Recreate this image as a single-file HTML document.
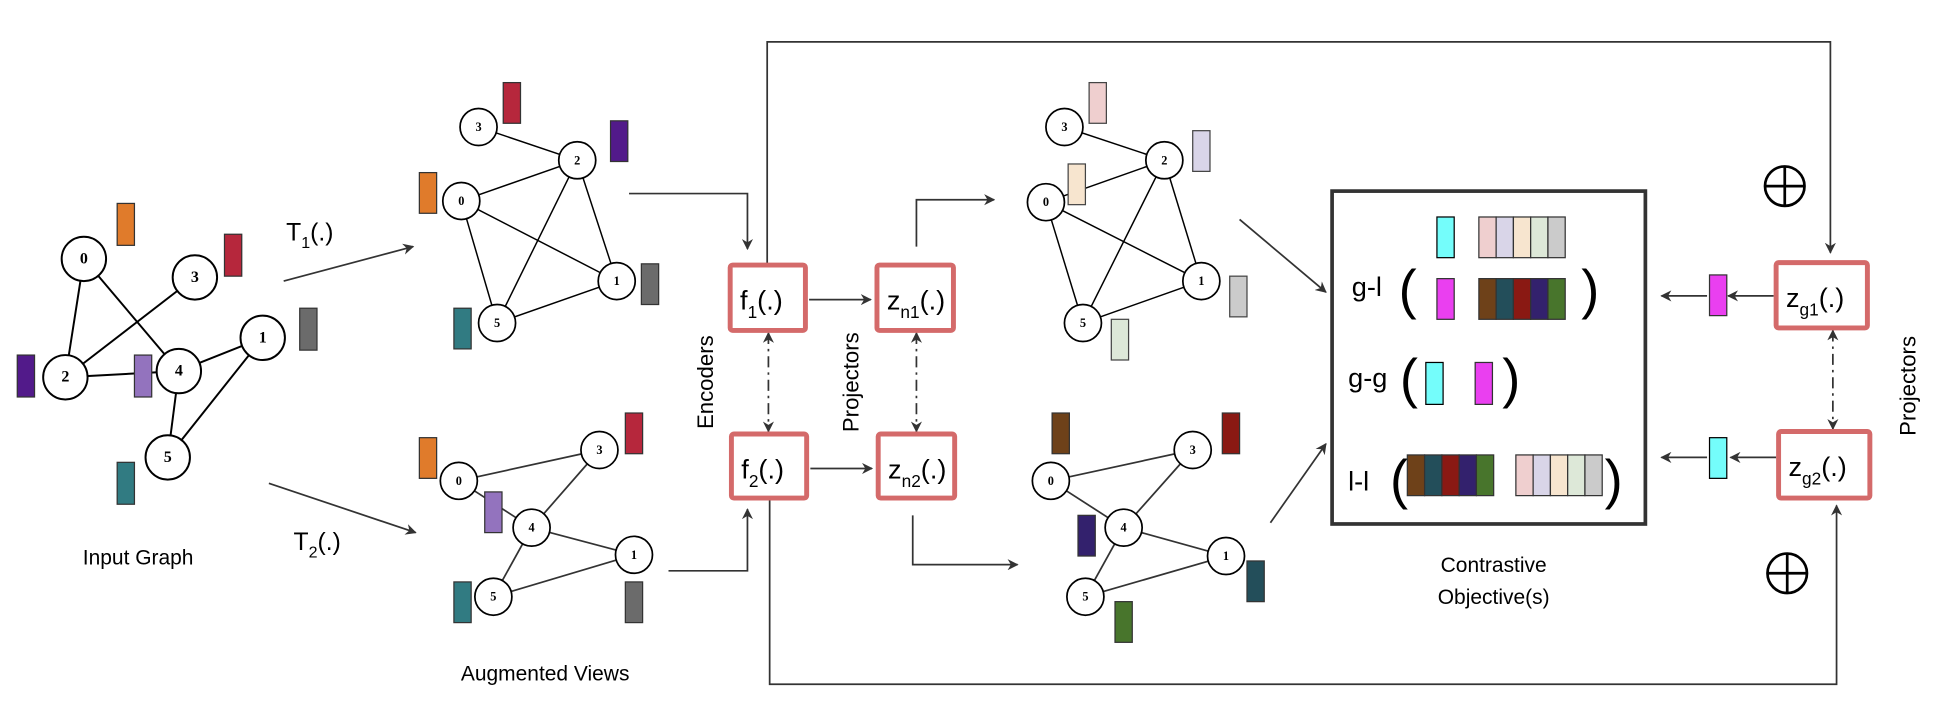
<!DOCTYPE html>
<html><head><meta charset="utf-8"><style>
html,body{margin:0;padding:0;background:#fff;}
svg{display:block;}
text{font-family:"Liberation Sans",sans-serif;fill:#000;}
.n{font-family:"Liberation Serif",serif;font-weight:bold;font-size:10px;text-anchor:middle;dominant-baseline:central;}
</style></head><body>
<svg width="1934" height="720" viewBox="0 0 1568 584" preserveAspectRatio="none" xmlns="http://www.w3.org/2000/svg">
<defs>
<marker id="a" viewBox="0 0 10 10" refX="9" refY="5" markerWidth="9" markerHeight="9" orient="auto-start-reverse" markerUnits="userSpaceOnUse"><path d="M0,0 L10,5 L0,10 L3,5 z" fill="#333"/></marker>
</defs>
<g stroke="#000" stroke-width="1.6" fill="none">
<!-- input graph edges -->
<line x1="68" y1="210" x2="53" y2="306"/><line x1="68" y1="210" x2="145" y2="301"/>
<line x1="158" y1="225" x2="53" y2="306"/><line x1="53" y1="306" x2="145" y2="301"/>
<line x1="145" y1="301" x2="213" y2="274"/><line x1="145" y1="301" x2="136" y2="371"/>
<line x1="136" y1="371" x2="213" y2="274"/>
</g>
<g stroke="#000" stroke-width="1.6" fill="#fff">
<circle cx="68" cy="210" r="18"/><circle cx="158" cy="225" r="18"/><circle cx="213" cy="274" r="18"/>
<circle cx="53" cy="306" r="18"/><circle cx="145" cy="301" r="18"/><circle cx="136" cy="371" r="18"/>
</g>
<g class="n" style="font-size:13px">
<text x="68" y="210" class="n" style="font-size:13px">0</text><text x="158" y="225" class="n" style="font-size:13px">3</text><text x="213" y="274" class="n" style="font-size:13px">1</text>
<text x="53" y="306" class="n" style="font-size:13px">2</text><text x="145" y="301" class="n" style="font-size:13px">4</text><text x="136" y="371" class="n" style="font-size:13px">5</text>
</g>
<g stroke="#333" stroke-width="1">
<rect x="95" y="165" width="14" height="34" fill="#e07b2b"/><rect x="182" y="190" width="14" height="34" fill="#b6273c"/>
<rect x="243" y="250" width="14" height="34" fill="#6b6b6b"/><rect x="14" y="288" width="14" height="34" fill="#521a8a"/>
<rect x="109" y="288" width="14" height="34" fill="#9373be"/><rect x="95" y="375" width="14" height="34" fill="#317b82"/>
</g>
<text x="112" y="458" font-size="17" text-anchor="middle">Input Graph</text>
<text x="232" y="195" font-size="20">T<tspan font-size="13" dy="6">1</tspan><tspan dy="-6">(.)</tspan></text>
<text x="238" y="446" font-size="20">T<tspan font-size="13" dy="6">2</tspan><tspan dy="-6">(.)</tspan></text>
<g stroke="#333" stroke-width="1.4" fill="none" marker-end="url(#a)">
<line x1="230" y1="228" x2="335" y2="200"/><line x1="218" y1="392" x2="337" y2="432"/>
</g>

<!-- top augmented -->
<g stroke="#000" stroke-width="1.2">
<line x1="388" y1="103" x2="468" y2="130"/><line x1="468" y1="130" x2="374" y2="163"/>
<line x1="374" y1="163" x2="500" y2="228"/><line x1="374" y1="163" x2="403" y2="262"/>
<line x1="468" y1="130" x2="403" y2="262"/><line x1="468" y1="130" x2="500" y2="228"/>
<line x1="403" y1="262" x2="500" y2="228"/>
</g>
<g stroke="#000" stroke-width="1.4" fill="#fff">
<circle cx="388" cy="103" r="15"/><circle cx="468" cy="130" r="15"/><circle cx="374" cy="163" r="15"/><circle cx="500" cy="228" r="15"/><circle cx="403" cy="262" r="15"/>
</g>
<text x="388" y="103" class="n">3</text><text x="468" y="130" class="n">2</text><text x="374" y="163" class="n">0</text><text x="500" y="228" class="n">1</text><text x="403" y="262" class="n">5</text>
<g stroke="#333" stroke-width="1">
<rect x="408" y="67" width="14" height="33" fill="#b6273c"/><rect x="495" y="98" width="14" height="33" fill="#521a8a"/>
<rect x="340" y="140" width="14" height="33" fill="#e07b2b"/><rect x="520" y="214" width="14" height="33" fill="#6b6b6b"/>
<rect x="368" y="250" width="14" height="33" fill="#317b82"/>
</g>
<!-- bottom augmented -->
<g stroke="#333" stroke-width="1.4">
<line x1="372" y1="390" x2="486" y2="365"/><line x1="372" y1="390" x2="431" y2="428"/>
<line x1="431" y1="428" x2="486" y2="365"/><line x1="431" y1="428" x2="514" y2="450"/>
<line x1="431" y1="428" x2="400" y2="484"/><line x1="400" y1="484" x2="514" y2="450"/>
</g>
<g stroke="#000" stroke-width="1.4" fill="#fff">
<circle cx="372" cy="390" r="15"/><circle cx="486" cy="365" r="15"/><circle cx="431" cy="428" r="15"/><circle cx="514" cy="450" r="15"/><circle cx="400" cy="484" r="15"/>
</g>
<text x="372" y="390" class="n">0</text><text x="486" y="365" class="n">3</text><text x="431" y="428" class="n">4</text><text x="514" y="450" class="n">1</text><text x="400" y="484" class="n">5</text>
<g stroke="#333" stroke-width="1">
<rect x="340" y="355" width="14" height="33" fill="#e07b2b"/><rect x="507" y="335" width="14" height="33" fill="#b6273c"/>
<rect x="393" y="399" width="14" height="33" fill="#9373be"/><rect x="368" y="472" width="14" height="33" fill="#317b82"/>
<rect x="507" y="472" width="14" height="33" fill="#6b6b6b"/>
</g>
<text x="442" y="552" font-size="17" text-anchor="middle">Augmented Views</text>

<!-- connectors -->
<g stroke="#333" stroke-width="1.4" fill="none">
<polyline points="510,157 606,157 606,202" marker-end="url(#a)"/>
<polyline points="542,463 606,463 606,413" marker-end="url(#a)"/>
<polyline points="622,214 622,34 1484,34 1484,205" marker-end="url(#a)"/>
<polyline points="624,404 624,555 1489,555 1489,410" marker-end="url(#a)"/>
<line x1="656" y1="243" x2="706" y2="243" marker-end="url(#a)"/>
<line x1="657" y1="380" x2="707" y2="380" marker-end="url(#a)"/>
<polyline points="743,200 743,162 806,162" marker-end="url(#a)"/>
<polyline points="740,418 740,458 825,458" marker-end="url(#a)"/>
<line x1="623" y1="270" x2="623" y2="350" stroke-dasharray="9,4,2,4" marker-start="url(#a)" marker-end="url(#a)"/>
<line x1="743" y1="270" x2="743" y2="350" stroke-dasharray="9,4,2,4" marker-start="url(#a)" marker-end="url(#a)"/>
<line x1="1486" y1="268" x2="1486" y2="348" stroke-dasharray="9,4,2,4" marker-start="url(#a)" marker-end="url(#a)"/>
<line x1="1005" y1="178" x2="1075" y2="237" marker-end="url(#a)"/>
<line x1="1030" y1="424" x2="1075" y2="360" marker-end="url(#a)"/>
<line x1="1438" y1="240" x2="1401" y2="240" marker-end="url(#a)"/>
<line x1="1384" y1="240" x2="1347" y2="240" marker-end="url(#a)"/>
<line x1="1440" y1="371" x2="1403" y2="371" marker-end="url(#a)"/>
<line x1="1384" y1="371" x2="1347" y2="371" marker-end="url(#a)"/>
</g>

<!-- boxes -->
<g stroke="#d46a6a" stroke-width="4" fill="#fff">
<rect x="592" y="215" width="61" height="53" rx="2"/><rect x="593" y="352" width="61" height="52" rx="2"/>
<rect x="711" y="215" width="62" height="53" rx="2"/><rect x="712" y="352" width="62" height="52" rx="2"/>
<rect x="1440" y="213" width="74" height="53" rx="2"/><rect x="1442" y="350" width="74" height="54" rx="2"/>
</g>
<text x="600" y="251" font-size="22">f<tspan font-size="14" dy="7">1</tspan><tspan dy="-7">(.)</tspan></text>
<text x="601" y="388" font-size="22">f<tspan font-size="14" dy="7">2</tspan><tspan dy="-7">(.)</tspan></text>
<text x="719" y="251" font-size="22">z<tspan font-size="14" dy="7">n1</tspan><tspan dy="-7">(.)</tspan></text>
<text x="720" y="388" font-size="22">z<tspan font-size="14" dy="7">n2</tspan><tspan dy="-7">(.)</tspan></text>
<text x="1448" y="249" font-size="22">z<tspan font-size="14" dy="7">g1</tspan><tspan dy="-7">(.)</tspan></text>
<text x="1450" y="386" font-size="22">z<tspan font-size="14" dy="7">g2</tspan><tspan dy="-7">(.)</tspan></text>
<text transform="translate(578,310) rotate(-90)" font-size="18" text-anchor="middle">Encoders</text>
<text transform="translate(696,310) rotate(-90)" font-size="18" text-anchor="middle">Projectors</text>
<text transform="translate(1553,313) rotate(-90)" font-size="18" text-anchor="middle">Projectors</text>

<!-- right top graph -->
<g stroke="#000" stroke-width="1.2">
<line x1="863" y1="103" x2="944" y2="130"/><line x1="944" y1="130" x2="848" y2="164"/>
<line x1="848" y1="164" x2="974" y2="228"/><line x1="848" y1="164" x2="878" y2="262"/>
<line x1="944" y1="130" x2="878" y2="262"/><line x1="944" y1="130" x2="974" y2="228"/>
<line x1="878" y1="262" x2="974" y2="228"/>
</g>
<g stroke="#000" stroke-width="1.4" fill="#fff">
<circle cx="863" cy="103" r="15"/><circle cx="944" cy="130" r="15"/><circle cx="848" cy="164" r="15"/><circle cx="974" cy="228" r="15"/><circle cx="878" cy="262" r="15"/>
</g>
<text x="863" y="103" class="n">3</text><text x="944" y="130" class="n">2</text><text x="848" y="164" class="n">0</text><text x="974" y="228" class="n">1</text><text x="878" y="262" class="n">5</text>
<g stroke="#444" stroke-width="1">
<rect x="883" y="67" width="14" height="33" fill="#efcfcf"/><rect x="967" y="106" width="14" height="33" fill="#d9d5e8"/>
<rect x="866" y="133" width="14" height="33" fill="#f7e5cf"/><rect x="997" y="224" width="14" height="33" fill="#cbcbcb"/>
<rect x="901" y="259" width="14" height="33" fill="#dde8d8"/>
</g>
<!-- right bottom graph -->
<g stroke="#333" stroke-width="1.4">
<line x1="852" y1="390" x2="967" y2="365"/><line x1="852" y1="390" x2="911" y2="428"/>
<line x1="911" y1="428" x2="967" y2="365"/><line x1="911" y1="428" x2="994" y2="451"/>
<line x1="911" y1="428" x2="880" y2="484"/><line x1="880" y1="484" x2="994" y2="451"/>
</g>
<g stroke="#000" stroke-width="1.4" fill="#fff">
<circle cx="852" cy="390" r="15"/><circle cx="967" cy="365" r="15"/><circle cx="911" cy="428" r="15"/><circle cx="994" cy="451" r="15"/><circle cx="880" cy="484" r="15"/>
</g>
<text x="852" y="390" class="n">0</text><text x="967" y="365" class="n">3</text><text x="911" y="428" class="n">4</text><text x="994" y="451" class="n">1</text><text x="880" y="484" class="n">5</text>
<g stroke="#333" stroke-width="1">
<rect x="853" y="335" width="14" height="33" fill="#6e4119"/><rect x="991" y="335" width="14" height="33" fill="#8a1913"/>
<rect x="874" y="418" width="14" height="33" fill="#33216d"/><rect x="1011" y="455" width="14" height="33" fill="#234e5a"/>
<rect x="904" y="488" width="14" height="33" fill="#48752c"/>
</g>

<!-- contrastive box -->
<rect x="1080" y="155" width="254" height="270" fill="#fff" stroke="#333" stroke-width="3"/>
<text x="1096" y="240" font-size="22">g-l</text>
<text x="1134" y="250" font-size="44">(</text>
<text x="1282" y="250" font-size="44">)</text>
<text x="1093" y="314" font-size="22">g-g</text>
<text x="1135" y="322" font-size="44">(</text>
<text x="1218" y="322" font-size="44">)</text>
<text x="1093" y="398" font-size="22">l-l</text>
<text x="1127" y="404" font-size="44">(</text>
<text x="1301" y="404" font-size="44">)</text>
<g stroke="#333" stroke-width="1">
<rect x="1165" y="176" width="14" height="33" fill="#74fdfb" stroke="#000"/>
<rect x="1165" y="226" width="14" height="33" fill="#ea3ff0"/>
<rect x="1199" y="176" width="14" height="33" fill="#efcfcf"/><rect x="1213" y="176" width="14" height="33" fill="#d9d5e8"/><rect x="1227" y="176" width="14" height="33" fill="#f7e5cf"/><rect x="1241" y="176" width="14" height="33" fill="#dde8d8"/><rect x="1255" y="176" width="14" height="33" fill="#cbcbcb"/>
<rect x="1199" y="226" width="14" height="33" fill="#6e4119"/><rect x="1213" y="226" width="14" height="33" fill="#234e5a"/><rect x="1227" y="226" width="14" height="33" fill="#8a1913"/><rect x="1241" y="226" width="14" height="33" fill="#33216d"/><rect x="1255" y="226" width="14" height="33" fill="#48752c"/>
<rect x="1156" y="294" width="14" height="34" fill="#74fdfb" stroke="#000"/>
<rect x="1196" y="294" width="14" height="34" fill="#ea3ff0"/>
<rect x="1141" y="369" width="14" height="33" fill="#6e4119"/><rect x="1155" y="369" width="14" height="33" fill="#234e5a"/><rect x="1169" y="369" width="14" height="33" fill="#8a1913"/><rect x="1183" y="369" width="14" height="33" fill="#33216d"/><rect x="1197" y="369" width="14" height="33" fill="#48752c"/>
<rect x="1229" y="369" width="14" height="33" fill="#efcfcf"/><rect x="1243" y="369" width="14" height="33" fill="#d9d5e8"/><rect x="1257" y="369" width="14" height="33" fill="#f7e5cf"/><rect x="1271" y="369" width="14" height="33" fill="#dde8d8"/><rect x="1285" y="369" width="14" height="33" fill="#cbcbcb"/>
<rect x="1386" y="223" width="14" height="33" fill="#ea3ff0"/>
<rect x="1386" y="355" width="14" height="33" fill="#74fdfb" stroke="#000"/>
</g>
<text x="1211" y="464" font-size="17" text-anchor="middle">Contrastive</text>
<text x="1211" y="490" font-size="17" text-anchor="middle">Objective(s)</text>
<!-- oplus -->
<g stroke="#000" stroke-width="2.2" fill="none">
<circle cx="1447" cy="151" r="16"/><line x1="1431" y1="151" x2="1463" y2="151"/><line x1="1447" y1="135" x2="1447" y2="167"/>
<circle cx="1449" cy="465" r="16"/><line x1="1433" y1="465" x2="1465" y2="465"/><line x1="1449" y1="449" x2="1449" y2="481"/>
</g>
</svg>
</body></html>
